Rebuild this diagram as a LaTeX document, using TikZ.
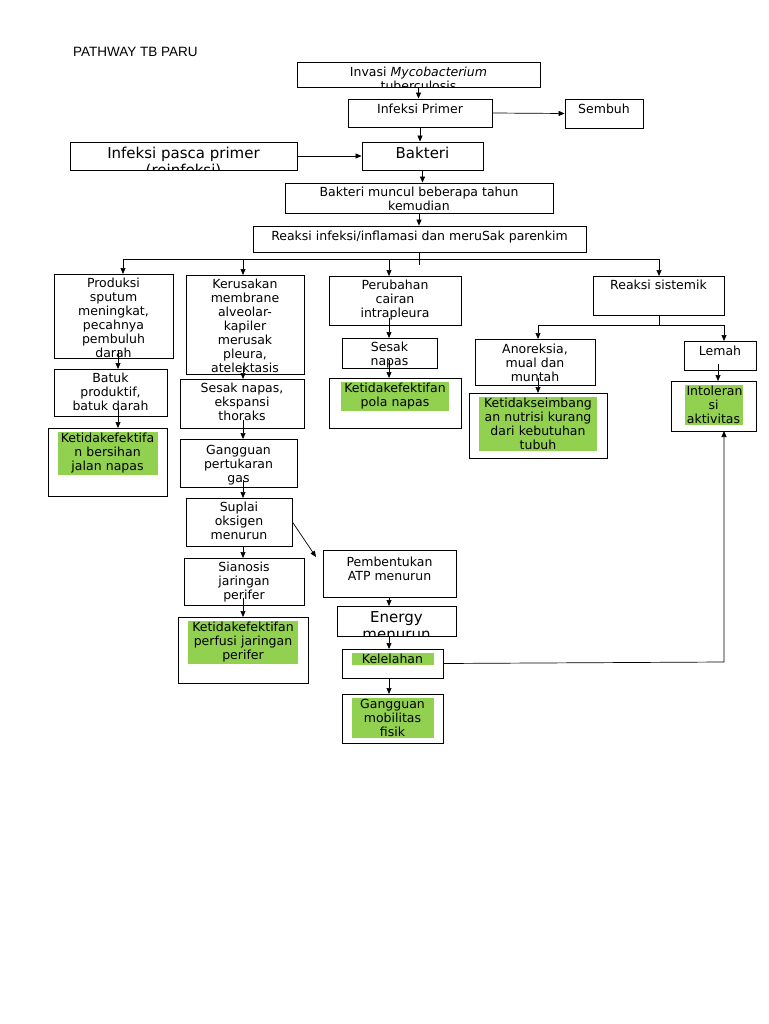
\documentclass[tikz,border=0pt]{standalone}
\usepackage{fontspec}
\setmainfont{DejaVu Sans}
\newfontfamily\titlefont{Liberation Sans}
\usetikzlibrary{arrows.meta}
\definecolor{grn}{HTML}{92D050}
\tikzset{
  box/.style={draw, line width=0.9pt, inner sep=0pt},
  txt/.style={align=center, font=\fontsize{12.5}{14}\selectfont, inner sep=1pt, minimum width=0pt, minimum height=0pt},
  big/.style={txt, font=\fontsize{15}{17}\selectfont},
  gr/.style={txt, fill=grn, inner xsep=2pt, inner ysep=1pt},
  arr/.style={-{Triangle[length=6pt,width=5pt]}, line width=0.7pt},
  ln/.style={line width=0.7pt}
}
% \bx[text style]{name}{x1}{y1}{x2}{y2}{yshift}{text}
\newcommand{\bx}[8][txt]{%
  \node[box, minimum width={(#5-#3)*1pt}, minimum height={(#6-#4)*1pt},
    path picture={\node[#1, anchor=north] at ([yshift=-#7pt]path picture bounding box.north) {#8};}]
    (#2) at ({(#3+#5)/2},{(#4+#6)/2}) {};}
\begin{document}
\begin{tikzpicture}[x=1pt, y=-1pt]
\useasboundingbox (0,0) rectangle (768,1024);
\node[anchor=west, font=\titlefont\fontsize{13.5}{15}\selectfont, inner sep=0pt] (title) at (73,52) {PATHWAY TB PARU};

\bx{invasi}{297}{62}{540}{87}{4}{Invasi \textit{Mycobacterium}\\tuberculosis}
\bx{primer}{348}{99}{492}{127}{4}{Infeksi Primer}
\bx{sembuh}{565}{99}{643}{128}{4}{Sembuh}
\bx[big]{pasca}{70}{142}{297}{170}{4}{Infeksi pasca primer\\(reinfeksi)}
\bx[big]{bakteri}{362}{142}{483}{170}{4}{Bakteri}
\bx{muncul}{285}{183}{553}{213}{3}{Bakteri muncul beberapa tahun\\kemudian}
\bx{reaksi}{253}{226}{586}{252}{4}{Reaksi infeksi/inflamasi dan meruSak parenkim}

\bx{produksi}{54}{274}{173}{358}{3}{Produksi\\sputum\\meningkat,\\pecahnya\\pembuluh\\darah}
\bx{kerusakan}{186}{275}{304}{374}{3}{Kerusakan\\membrane\\alveolar-\\kapiler\\merusak\\pleura,\\atelektasis}
\bx{perubahan}{329}{276}{461}{325}{3}{Perubahan\\cairan\\intrapleura}
\bx{sistemik}{593}{276}{724}{315}{3}{Reaksi sistemik}

\bx{sesak}{342}{338}{437}{368}{3}{Sesak\\napas}
\bx[gr, text width=104pt]{pola}{329}{378}{461}{428}{4}{Ketidakefektifan\\pola napas}
\bx{batuk}{54}{369}{167}{416}{3}{Batuk\\produktif,\\batuk darah}
\bx[gr, text width=96pt]{bersihan}{48}{428}{167}{496}{4}{Ketidakefektifa\\n bersihan\\jalan napas}
\bx{sesak2}{180}{379}{304}{428}{3}{Sesak napas,\\ekspansi\\thoraks}
\bx{gangguan}{180}{439}{297}{487}{5}{Gangguan\\pertukaran\\gas}
\bx{suplai}{186}{498}{292}{546}{3}{Suplai\\oksigen\\menurun}
\bx{sianosis}{184}{558}{304}{605}{3}{Sianosis\\jaringan\\perifer}
\bx[gr, text width=106pt]{perfusi}{178}{617}{308}{683}{4}{Ketidakefektifan\\perfusi jaringan\\perifer}
\bx{atp}{323}{550}{456}{597}{6}{Pembentukan\\ATP menurun}
\bx[big]{energy}{337}{606}{456}{636}{4}{Energy\\menurun}
\bx[gr, text width=78pt]{kelelahan}{342}{649}{443}{678}{4}{Kelelahan}
\bx[gr, text width=78pt]{mobilitas}{342}{694}{443}{743}{4}{Gangguan\\mobilitas\\fisik}
\bx{anoreksia}{475}{339}{595}{385}{4}{Anoreksia,\\mual dan\\muntah}
\bx[gr, text width=114pt]{nutrisi}{469}{393}{607}{458}{4}{Ketidakseimbang\\an nutrisi kurang\\dari kebutuhan\\tubuh}
\bx{lemah}{684}{341}{756}{370}{4}{Lemah}
\bx[gr, text width=54pt]{intol}{671}{381}{756}{431}{4}{Intoleran\\si\\aktivitas}

% top chain
\draw[arr] (invasi.south) -- (invasi.south |- primer.north);
\draw[arr] (primer.east) -- (sembuh.west);
\draw[arr] (primer.south) -- (primer.south |- bakteri.north);
\draw[arr] (pasca.east) -- (bakteri.west);
\draw[arr] (bakteri.south) -- (bakteri.south |- muncul.north);
\draw[arr] (muncul.south) -- (muncul.south |- reaksi.north);

% branches
\draw[ln] (reaksi.south) -- ++(0,13);
\draw[ln] (123,259) -- (659,259);
\draw[arr] (123,259) -- (123,274);
\draw[arr] (243,259) -- (243,275);
\draw[arr] (389,259) -- (389,276);
\draw[arr] (659,259) -- (659,276);

% left column
\draw[arr] (118,350) -- (118,369);
\draw[arr] (118,408) -- (118,428);
% second column
\draw[arr] (243,366) -- (243,379);
\draw[arr] (243,420) -- (243,439);
\draw[arr] (243,480) -- (243,498);
\draw[arr] (243,546) -- (243,558);
\draw[arr] (243,598) -- (243,617);
\draw[arr] (suplai.east) -- (316,557);
% third column
\draw[arr] (389,318) -- (389,338);
\draw[arr] (389,360) -- (389,378);
\draw[arr] (389,597) -- (389,606);
\draw[arr] (389,636) -- (389,649);
\draw[arr] (389,678) -- (389,694);
% right part
\draw[ln] (659,315) -- (659,325);
\draw[ln] (538,325) -- (724,325);
\draw[arr] (538,325) -- (538,339);
\draw[arr] (724,325) -- (724,341);
\draw[arr] (538,378) -- (538,393);
\draw[arr] (718,364) -- (718,381);
\draw[arr] (kelelahan.east) -- (724,662) -- (724,431);
\end{tikzpicture}
\end{document}
